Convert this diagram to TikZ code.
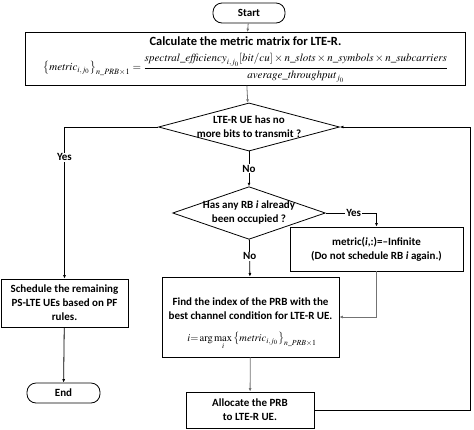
\documentclass[tikz,border=0pt]{standalone}
\usepackage{amsmath}
\usepackage{mathptmx}
\usepackage[no-math]{fontspec}
\setmainfont{Carlito}
\usetikzlibrary{shapes.geometric, arrows.meta}

\begin{document}
\begin{tikzpicture}[x=1pt, y=-1pt, >={Latex[length=3.5pt, width=3pt]},
	box/.style={draw, line width=0.8pt, align=center, inner sep=2pt},
	term/.style={draw, line width=0.8pt, rounded corners=9pt, minimum height=20pt},
	decision/.style={draw, diamond, line width=0.8pt, align=center, inner xsep=3pt, inner ysep=-1.5pt},
	flow/.style={line width=0.8pt, ->},
	gflow/.style={line width=0.8pt, ->, black!55},
	tag/.style={fill=white, inner sep=1pt},
	font=\fontsize{11}{14}\selectfont\bfseries]
	\useasboundingbox (0,0) rectangle (474,429);
	
	% Main column
	\node[term, minimum width=72pt] (start) at (249,13) {Start};
	\node[box, minimum width=440pt, minimum height=53pt] (calc) at (245.5,59) {};
	\node[font=\fontsize{12.5}{14}\selectfont\bfseries] (calctitle) at (245.5,41) {Calculate the metric matrix for LTE-R.};
	\node[font=\fontsize{11}{12}\selectfont] (calcform) at (245.5,68)
	{$\left\{\mathit{metric}_{i,j_0}\right\}_{n\_\mathit{PRB}\times1}=\dfrac{\mathit{spectral}\_\mathit{efficiency}_{i,j_0}[\mathit{bit}/\mathit{cu}]\times n\_\mathit{slots}\times n\_\mathit{symbols}\times n\_\mathit{subcarriers}}{\mathit{average}\_\mathit{throughput}_{j_0}}$};
	
	\node[decision, aspect=3.76] (nobits) at (249,127) {LTE-R UE has no\\more bits to transmit ?};
	\node[decision, aspect=2.9, inner xsep=5pt, inner ysep=-3pt] (occupied) at (249,213) {Has any RB \textit{i} already\\been occupied ?};
	
	\node[box, minimum width=173pt, minimum height=44pt] (infinite) at (376.5,249) {metric(\textit{i},:)=--Infinite\\(Do not schedule RB \textit{i} again.)};
	\node[box, minimum width=177pt, minimum height=80pt] (findprb) at (250.5,317) {};
	\node[align=center, inner sep=0pt] (findtext) at (250.5,309) {Find the index of the PRB with the\\best channel condition for LTE-R UE.};
	\node[font=\fontsize{10.5}{12}\selectfont, inner sep=0pt] (findform) at (252,341)
	{$i{=}\arg\max\limits_{i}\big\{\mathit{metric}_{i,j_0}\big\}_{n\_\mathit{PRB}\times1}$};
	\node[box, minimum width=128pt, minimum height=36pt] (allocate) at (250,410) {Allocate the PRB\\to LTE-R UE.};
	
	% Left column
	\node[box, minimum width=127pt, minimum height=48pt] (remaining) at (64.5,303) {Schedule the remaining\\PS-LTE UEs based on PF\\rules.};
	\node[term, minimum width=73pt] (end) at (63.5,393) {End};
	
	% Connectors
	\draw[gflow] (start) -- (calc);
	\draw[gflow] (calc) -- (nobits);
	\draw[flow] (nobits) -- node[tag] {No} (occupied);
	\draw[flow] (nobits.west) -- (nobits.west -| remaining.north) -- node[tag, pos=0.2] {Yes} (remaining.north);
	\draw[flow] (remaining) -- (end);
	\draw[flow] (occupied) -- node[tag, pos=0.45] {No} (findprb);
	\draw[flow] (occupied.east) -- node[tag, pos=0.55] {Yes} (occupied.east -| infinite.north) -- (infinite.north);
	\draw[gflow] (infinite.south) |- (findprb.east);
	\draw[gflow] (findprb) -- (allocate);
	\coordinate (back) at (470,410);
	\draw[flow] (allocate.east) -- (back) |- (nobits.east);
\end{tikzpicture}
\end{document}
